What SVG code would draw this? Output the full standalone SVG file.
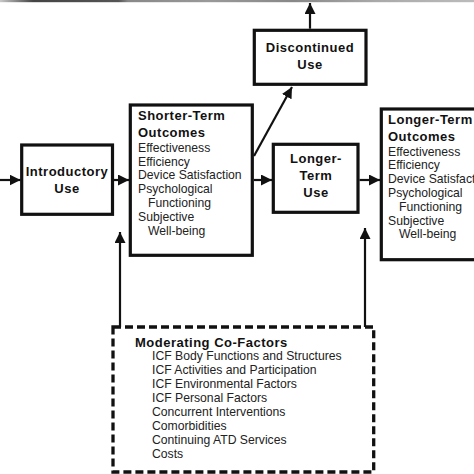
<svg xmlns="http://www.w3.org/2000/svg" width="474" height="474" viewBox="0 0 474 474">
<defs>
<linearGradient id="topbar" x1="0" y1="0" x2="1" y2="0">
<stop offset="0" stop-color="#c8c8c8"/>
<stop offset="0.07" stop-color="#444"/>
<stop offset="0.25" stop-color="#555"/>
<stop offset="0.27" stop-color="#888"/>
<stop offset="0.44" stop-color="#999"/>
<stop offset="0.62" stop-color="#888"/>
<stop offset="0.8" stop-color="#aaa"/>
<stop offset="1" stop-color="#bbb"/>
</linearGradient>
<marker id="ah" markerUnits="userSpaceOnUse" markerWidth="12" markerHeight="11" refX="11" refY="5.5" orient="auto">
<path d="M0,0 L11,5.5 L0,11 z" fill="#111"/>
</marker>
</defs>
<style>
.box{fill:#fff;stroke:#111;stroke-width:3.2}
.dash{fill:#fff;stroke:#111;stroke-width:3.3;stroke-dasharray:8 4}
.b{font-family:"Liberation Sans",Arial,sans-serif;font-weight:bold;font-size:13px;letter-spacing:0.5px;fill:#111}
.t{font-family:"Liberation Sans",Arial,sans-serif;font-size:12.2px;fill:#222}
.c{text-anchor:middle}
.con{stroke:#111;stroke-width:2.2;fill:none;marker-end:url(#ah)}
</style>
<rect x="0" y="0" width="474" height="2.2" fill="url(#topbar)"/>

<g id="introductory">
<rect class="box" x="21.7" y="145" width="90.8" height="69.3"/>
<text class="b c" x="67" y="176">Introductory</text>
<text class="b c" x="67" y="193">Use</text>
</g>

<g id="shorter-term">
<rect class="box" x="130.3" y="105" width="122" height="150.3"/>
<text class="b" x="138" y="120">Shorter-Term</text>
<text class="b" x="138" y="137">Outcomes</text>
<text class="t" x="138" y="151.7">Effectiveness</text>
<text class="t" x="138" y="165.6">Efficiency</text>
<text class="t" x="138" y="179.4">Device Satisfaction</text>
<text class="t" x="138" y="193.3">Psychological</text>
<text class="t" x="148" y="207.2">Functioning</text>
<text class="t" x="138" y="221">Subjective</text>
<text class="t" x="148" y="234.9">Well-being</text>
</g>

<g id="discontinued">
<rect class="box" x="254.3" y="30.3" width="111.7" height="54"/>
<text class="b c" x="310" y="52">Discontinued</text>
<text class="b c" x="310" y="69">Use</text>
</g>

<g id="longer-term-use">
<rect class="box" x="273.3" y="144.3" width="84.7" height="68"/>
<text class="b c" x="316" y="163.3">Longer-</text>
<text class="b c" x="316" y="180.3">Term</text>
<text class="b c" x="316" y="197.3">Use</text>
</g>

<g id="longer-term-outcomes">
<rect class="box" x="381.3" y="109" width="100" height="150.7"/>
<text class="b" x="388" y="123.5">Longer-Term</text>
<text class="b" x="388" y="140.5">Outcomes</text>
<text class="t" x="388" y="155.5">Effectiveness</text>
<text class="t" x="388" y="169.3">Efficiency</text>
<text class="t" x="388" y="183.1">Device Satisfaction</text>
<text class="t" x="388" y="196.9">Psychological</text>
<text class="t" x="399" y="210.7">Functioning</text>
<text class="t" x="388" y="224.5">Subjective</text>
<text class="t" x="399" y="238.3">Well-being</text>
</g>

<g id="moderating">
<rect class="dash" x="113" y="327" width="260.7" height="145"/>
<text class="b" x="135" y="347">Moderating Co-Factors</text>
<text class="t" x="152" y="360.3">ICF Body Functions and Structures</text>
<text class="t" x="152" y="374.2">ICF Activities and Participation</text>
<text class="t" x="152" y="388.1">ICF Environmental Factors</text>
<text class="t" x="152" y="402">ICF Personal Factors</text>
<text class="t" x="152" y="415.9">Concurrent Interventions</text>
<text class="t" x="152" y="429.8">Comorbidities</text>
<text class="t" x="152" y="443.7">Continuing ATD Services</text>
<text class="t" x="152" y="457.6">Costs</text>
</g>

<g id="connectors">
<line class="con" x1="0" y1="180" x2="20.5" y2="180"/>
<line class="con" x1="114" y1="180" x2="129" y2="180"/>
<line class="con" x1="254" y1="180" x2="272" y2="180"/>
<line class="con" x1="359.5" y1="180" x2="380" y2="180"/>
<line class="con" x1="254" y1="156" x2="292" y2="87"/>
<line class="con" x1="310" y1="28.7" x2="310" y2="3"/>
<line class="con" x1="120" y1="327" x2="120" y2="232"/>
<line class="con" x1="365" y1="327" x2="365" y2="228"/>
</g>
</svg>
